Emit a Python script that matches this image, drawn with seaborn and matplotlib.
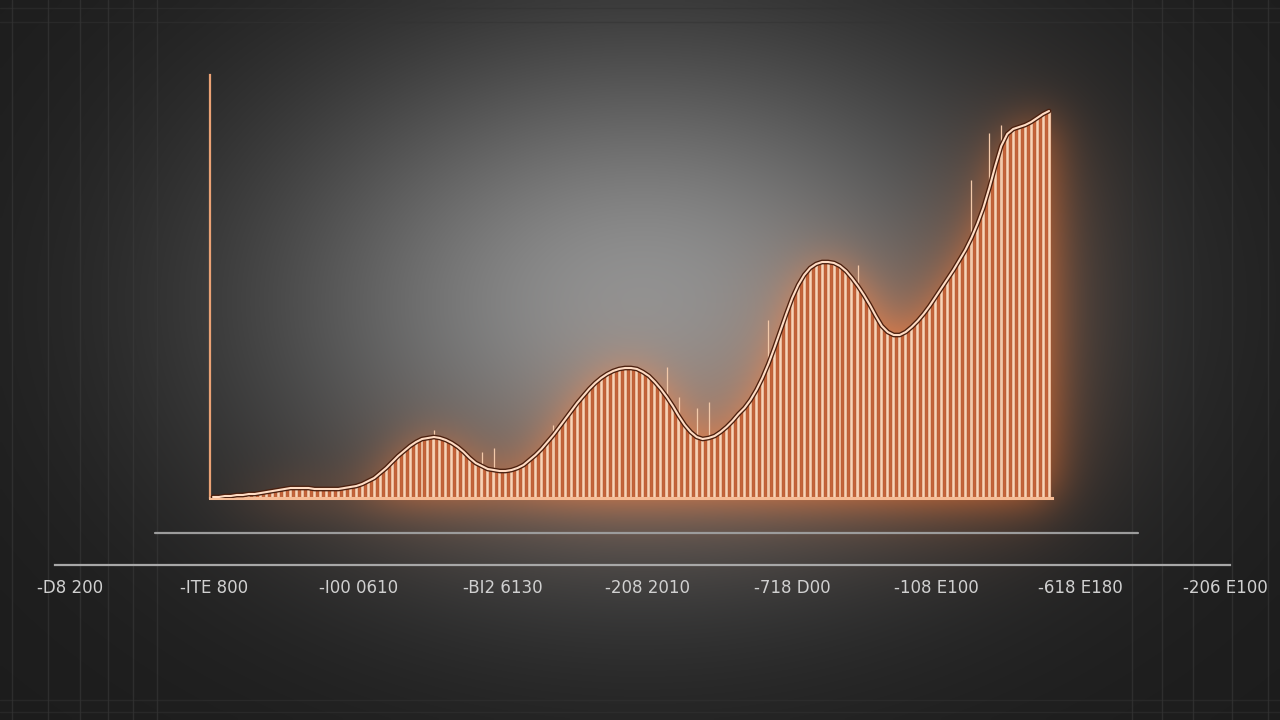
import numpy as np
import pandas as pd
import matplotlib
matplotlib.use("Agg")
import matplotlib.pyplot as plt
import seaborn as sns

# bar heights, left to right
heights = [
    1, 1, 2, 2, 3, 3, 4, 4, 5, 6,
    7, 8, 9, 10, 10, 10, 10, 9, 9, 9,
    9, 9, 10, 11, 12, 14, 17, 20, 25, 30,
    36, 42, 47, 52, 56, 59, 60, 61, 60, 58,
    55, 51, 46, 40, 35, 32, 29, 28, 27, 27,
    28, 30, 33, 38, 43, 49, 56, 63, 71, 79,
    87, 95, 102, 109, 115, 120, 124, 127, 129, 130,
    130, 129, 126, 122, 116, 109, 101, 92, 82, 73,
    66, 61, 59, 60, 62, 66, 71, 77, 84, 90,
    98, 108, 120, 134, 150, 167, 184, 200, 213, 223,
    230, 234, 236, 236, 235, 232, 227, 220, 212, 203,
    193, 182, 172, 166, 163, 163, 166, 171, 177, 184,
    192, 201, 210, 219, 228, 238, 248, 260, 274, 290,
    310, 332, 352, 364, 369, 371, 373, 376, 380, 384,
    387,
]

# thin stray spikes sticking out above the curve
spike_idx = [37, 45, 47, 57, 76, 78, 81, 83, 93, 108, 127, 130, 132]
spike_h = [68, 46, 50, 73, 131, 101, 90, 96, 178, 233, 318, 365, 373]

tick_labels = ["-D8 200", "-ITE 800", "-I00 0610", "-BI2 6130", "-208 2010",
               "-718 D00", "-108 E100", "-618 E180", "-206 E100"]

W, H = 1280, 720
sns.set_theme(style="dark")
plt.rcParams['font.family'] = ['Liberation Sans Narrow', 'DejaVu Sans']

fig = plt.figure(figsize=(12.8, 7.2), dpi=100)
fig.patch.set_facecolor('#1b1b1b')

ax_bg = fig.add_axes([0, 0, 1, 1], zorder=0)
ax = fig.add_axes([210 / W, 1 - 498 / H, 842 / W, 423 / H], zorder=2)
ax.patch.set_alpha(0)

n = len(heights)
idx = np.arange(n)
df = pd.DataFrame({'idx': idx, 'h': heights})

# orange body under the curve, cream stripes on top
ax.fill_between(idx, heights, color='#c4643a', zorder=0.5, lw=0)
sns.barplot(data=df, x='idx', y='h', ax=ax, color='#f8d4b8', width=0.5,
            saturation=1, edgecolor='#a9532c', linewidth=0.3, zorder=1)
ax.vlines(spike_idx, 0, spike_h, color='#f3c9aa', lw=0.9, zorder=2.5)
ax.plot(idx, heights, color='#4a1f0e', lw=3.4, zorder=3, solid_capstyle='round')
ax.plot(idx, heights, color='#ffdcc4', lw=1.5, zorder=4, solid_capstyle='round')

ax.set_xlim(-0.5, n - 0.5)
ax.set_ylim(0, 423)
ax.set_xticks([])
ax.set_yticks([])
ax.set_xlabel('')
ax.set_ylabel('')
ax.grid(False)
for s in ['top', 'right']:
    ax.spines[s].set_visible(False)
ax.spines['left'].set_color('#eaa275')
ax.spines['left'].set_linewidth(1.6)
ax.spines['bottom'].set_color('#f6bc96')
ax.spines['bottom'].set_linewidth(2.2)

# background: radial grey gradient plus orange glow computed from the bar shape
ds = 4
gh, gw = H // ds, W // ds
yy, xx = np.mgrid[0:gh, 0:gw] * ds
d2 = ((xx - 640) / 520.0) ** 2 + ((yy - 300) / 360.0) ** 2
lum = 0.11 + 0.46 * np.exp(-d2 * 1.9)
rgb = np.dstack([lum, lum, lum])

pts = ax.transData.transform(np.column_stack([idx, heights]))
px = pts[:, 0]
py_top = H - pts[:, 1]
base = H - ax.transData.transform([[0, 0]])[0, 1]
curve_y = np.interp(xx[0], px, py_top, left=np.inf, right=np.inf)
mask = ((yy <= base) & (yy >= curve_y[None, :])).astype(float)


def blur(a, sigma):
    r = int(3 * sigma)
    k = np.exp(-0.5 * (np.arange(-r, r + 1) / sigma) ** 2)
    k /= k.sum()
    a = np.apply_along_axis(lambda v: np.convolve(v, k, mode='same'), 0, a)
    a = np.apply_along_axis(lambda v: np.convolve(v, k, mode='same'), 1, a)
    return a


glow = 0.6 * blur(mask, 5) + 0.5 * blur(mask, 12)
glow = np.clip(glow, 0, 1)
orange = np.array([1.0, 0.42, 0.12])
rgb = rgb * (1 - 0.55 * glow[..., None]) + 0.75 * glow[..., None] * orange
rgb = np.clip(rgb, 0, 1)

ax_bg.imshow(rgb, extent=[0, W, H, 0], aspect='auto', interpolation='bilinear')
ax_bg.set_xlim(0, W)
ax_bg.set_ylim(H, 0)
ax_bg.axis('off')

# faint nested frame lines at the edges
for x in [12, 48, 80, 108, 133, 157, 1132, 1162, 1193, 1232, 1268]:
    ax_bg.axvline(x, color='#3a3a3a', lw=1, alpha=0.6)
for y in [8, 22, 700, 712]:
    ax_bg.axhline(y, color='#333333', lw=1, alpha=0.5)

# upper reflection line
ax_bg.plot([155, 1138], [533, 533], color='#9c9c9c', lw=1.6)

# label axis with the lower rule
axb = fig.add_axes([55 / W, 1 - 565 / H, 1175 / W, 0.001], zorder=2)
axb.patch.set_alpha(0)
axb.set_xlim(55, 1230)
axb.set_yticks([])
for s in ['top', 'right', 'left']:
    axb.spines[s].set_visible(False)
axb.spines['bottom'].set_color('#a8a8a8')
axb.spines['bottom'].set_linewidth(1.6)
axb.set_xticks(np.linspace(70, 1225, len(tick_labels)))
axb.set_xticklabels(tick_labels, color='#d0d0d0', fontsize=12)
axb.tick_params(axis='x', length=0, pad=10)
axb.grid(False)

fig.savefig('out.png', dpi=100, facecolor=fig.get_facecolor())
